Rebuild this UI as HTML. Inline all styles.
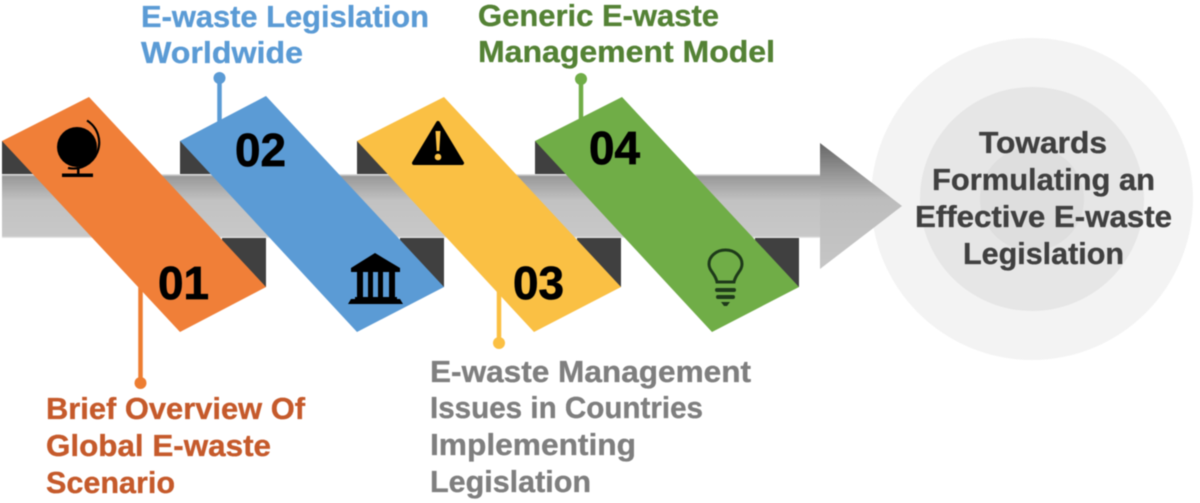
<!DOCTYPE html>
<html><head><meta charset="utf-8"><style>
html,body{margin:0;padding:0;background:#fff;width:1200px;height:503px;overflow:hidden}
svg{display:block;filter:blur(.45px)}
text{font-family:"Liberation Sans",sans-serif;font-weight:700}
.t{font-size:30.500px;stroke-width:.35px}
.n{font-size:46px;fill:#000;stroke:#000;stroke-width:.7px}
</style></head><body>
<svg width="1200" height="503" viewBox="0 0 1200 503" xmlns="http://www.w3.org/2000/svg">
<defs>
<linearGradient id="b" x1="0" y1="0" x2="0" y2="1"><stop offset="0" stop-color="#f0f0f0"/><stop offset=".04" stop-color="#999"/><stop offset=".42" stop-color="#c2c2c2"/><stop offset=".97" stop-color="#c8c8c8"/><stop offset="1" stop-color="#eee"/></linearGradient>
<linearGradient id="h" gradientUnits="userSpaceOnUse" x1="0" y1="143" x2="0" y2="269"><stop offset="0" stop-color="#666"/><stop offset=".26" stop-color="#999"/><stop offset=".45" stop-color="#bdbdbd"/><stop offset="1" stop-color="#c6c6c6"/></linearGradient>
</defs>
<circle cx="1032" cy="199" r="161" fill="#f3f3f3"/>
<circle cx="1032" cy="199" r="112" fill="#e6e6e6"/>
<circle cx="1032" cy="199" r="52" fill="#dedede"/>
<g fill="#404040">
<rect x="2" y="141" width="40" height="34"/><rect x="222" y="237" width="44" height="50"/>
<rect x="180" y="141" width="40" height="34"/><rect x="400" y="237" width="44" height="50"/>
<rect x="357" y="141" width="40" height="34"/><rect x="577" y="237" width="44" height="50"/>
<rect x="535" y="141" width="40" height="34"/><rect x="755" y="237" width="44" height="50"/>
</g>
<rect x="2" y="174" width="819" height="64" fill="url(#b)"/>
<polygon points="820,143 902,206 820,269" fill="url(#h)"/>
<g stroke-width="4.500" fill="none">
<path d="M140.500 280V383" stroke="#ED7D31"/>
<path d="M219.500 78V125" stroke="#5B9BD5"/>
<path d="M499 285V343" stroke="#FBC043"/>
<path d="M581 79V125" stroke="#70AD47"/>
</g>
<circle cx="140.500" cy="383" r="6" fill="#ED7D31"/>
<circle cx="219.500" cy="78" r="6" fill="#5B9BD5"/>
<circle cx="499" cy="343" r="6" fill="#FBC043"/>
<circle cx="581" cy="79" r="6" fill="#70AD47"/>
<polygon points="2,141 89,97 266,287 180,332" fill="#F07F38"/>
<polygon points="180,141 266,96 444,287 357,332" fill="#5B9BD5"/>
<polygon points="357,141 444,97 621,287 534,332" fill="#FAC044"/>
<polygon points="535,141 622,97 799,287 712,332" fill="#70AD47"/>
<!-- globe -->
<circle cx="77" cy="147" r="20" fill="#000"/>
<path d="M87 120.500A26 26 0 0 1 68 168" fill="none" stroke="#000" stroke-width="2.200"/>
<rect x="77" y="167" width="2.500" height="8" fill="#000"/>
<rect x="62" y="173.500" width="31" height="3.500" fill="#000"/>
<!-- warning -->
<path d="M438 123 L462 163 H414 Z" fill="#000" stroke="#000" stroke-width="4" stroke-linejoin="round"/>
<path d="M435.500 131H440.500L439.300 151H436.700Z" fill="#FAC044"/>
<circle cx="438" cy="157" r="3.300" fill="#FAC044"/>
<!-- bank -->
<g fill="#000">
<polygon points="375,253 400,268 400,272 351,272 351,268"/>
<rect x="357" y="272" width="6" height="26"/><rect x="368" y="272" width="5" height="26"/><rect x="378" y="272" width="5" height="26"/><rect x="389" y="272" width="6" height="26"/>
<rect x="355" y="297" width="42" height="3"/>
<polygon points="351,299 400,299 403,304 348,304"/>
</g>
<!-- bulb -->
<g fill="none" stroke="#1E3A1A">
<path d="M717 282C715 273 709 271 709 264A16.500 14 0 1 1 742 264C742 271 736 273 734 282Z" stroke-width="3"/>
<path d="M717 290H734M718 297H733" stroke-width="4" stroke-linecap="round"/>
</g>
<path d="M721 302H730L727 306H724Z" fill="#1E3A1A"/>
<!-- numbers -->
<text class="n" x="158" y="299" textLength="51" lengthAdjust="spacingAndGlyphs">01</text>
<text class="n" x="235" y="166" textLength="51" lengthAdjust="spacingAndGlyphs">02</text>
<text class="n" x="513" y="299" textLength="51" lengthAdjust="spacingAndGlyphs">03</text>
<text class="n" x="589" y="164" textLength="51" lengthAdjust="spacingAndGlyphs">04</text>
<!-- labels -->
<g fill="#5B9BD5" stroke="#5B9BD5">
<text class="t" x="141" y="27" textLength="288" lengthAdjust="spacingAndGlyphs">E-waste Legislation</text>
<text class="t" x="141" y="63" textLength="162" lengthAdjust="spacingAndGlyphs">Worldwide</text>
</g>
<g fill="#548235" stroke="#548235">
<text class="t" x="478" y="26" textLength="241" lengthAdjust="spacingAndGlyphs">Generic E-waste</text>
<text class="t" x="478" y="62" textLength="297" lengthAdjust="spacingAndGlyphs">Management Model</text>
</g>
<g fill="#C55A2B" stroke="#C55A2B">
<text class="t" x="46" y="419" textLength="259" lengthAdjust="spacingAndGlyphs">Brief Overview Of</text>
<text class="t" x="46" y="456" textLength="225" lengthAdjust="spacingAndGlyphs">Global E-waste</text>
<text class="t" x="46" y="493" textLength="129" lengthAdjust="spacingAndGlyphs">Scenario</text>
</g>
<g fill="#7F7F7F" stroke="#7F7F7F">
<text class="t" x="430" y="382" textLength="321" lengthAdjust="spacingAndGlyphs">E-waste Management</text>
<text class="t" x="430" y="418" textLength="273" lengthAdjust="spacingAndGlyphs">Issues in Countries</text>
<text class="t" x="430" y="455" textLength="206" lengthAdjust="spacingAndGlyphs">Implementing</text>
<text class="t" x="430" y="492" textLength="161" lengthAdjust="spacingAndGlyphs">Legislation</text>
</g>
<g fill="#404040" stroke="#404040">
<text class="t" x="979" y="153" textLength="128" lengthAdjust="spacingAndGlyphs">Towards</text>
<text class="t" x="932" y="190" textLength="223" lengthAdjust="spacingAndGlyphs">Formulating an</text>
<text class="t" x="915" y="227" textLength="257" lengthAdjust="spacingAndGlyphs">Effective E-waste</text>
<text class="t" x="963" y="264" textLength="161" lengthAdjust="spacingAndGlyphs">Legislation</text>
</g>
</svg>
</body></html>
